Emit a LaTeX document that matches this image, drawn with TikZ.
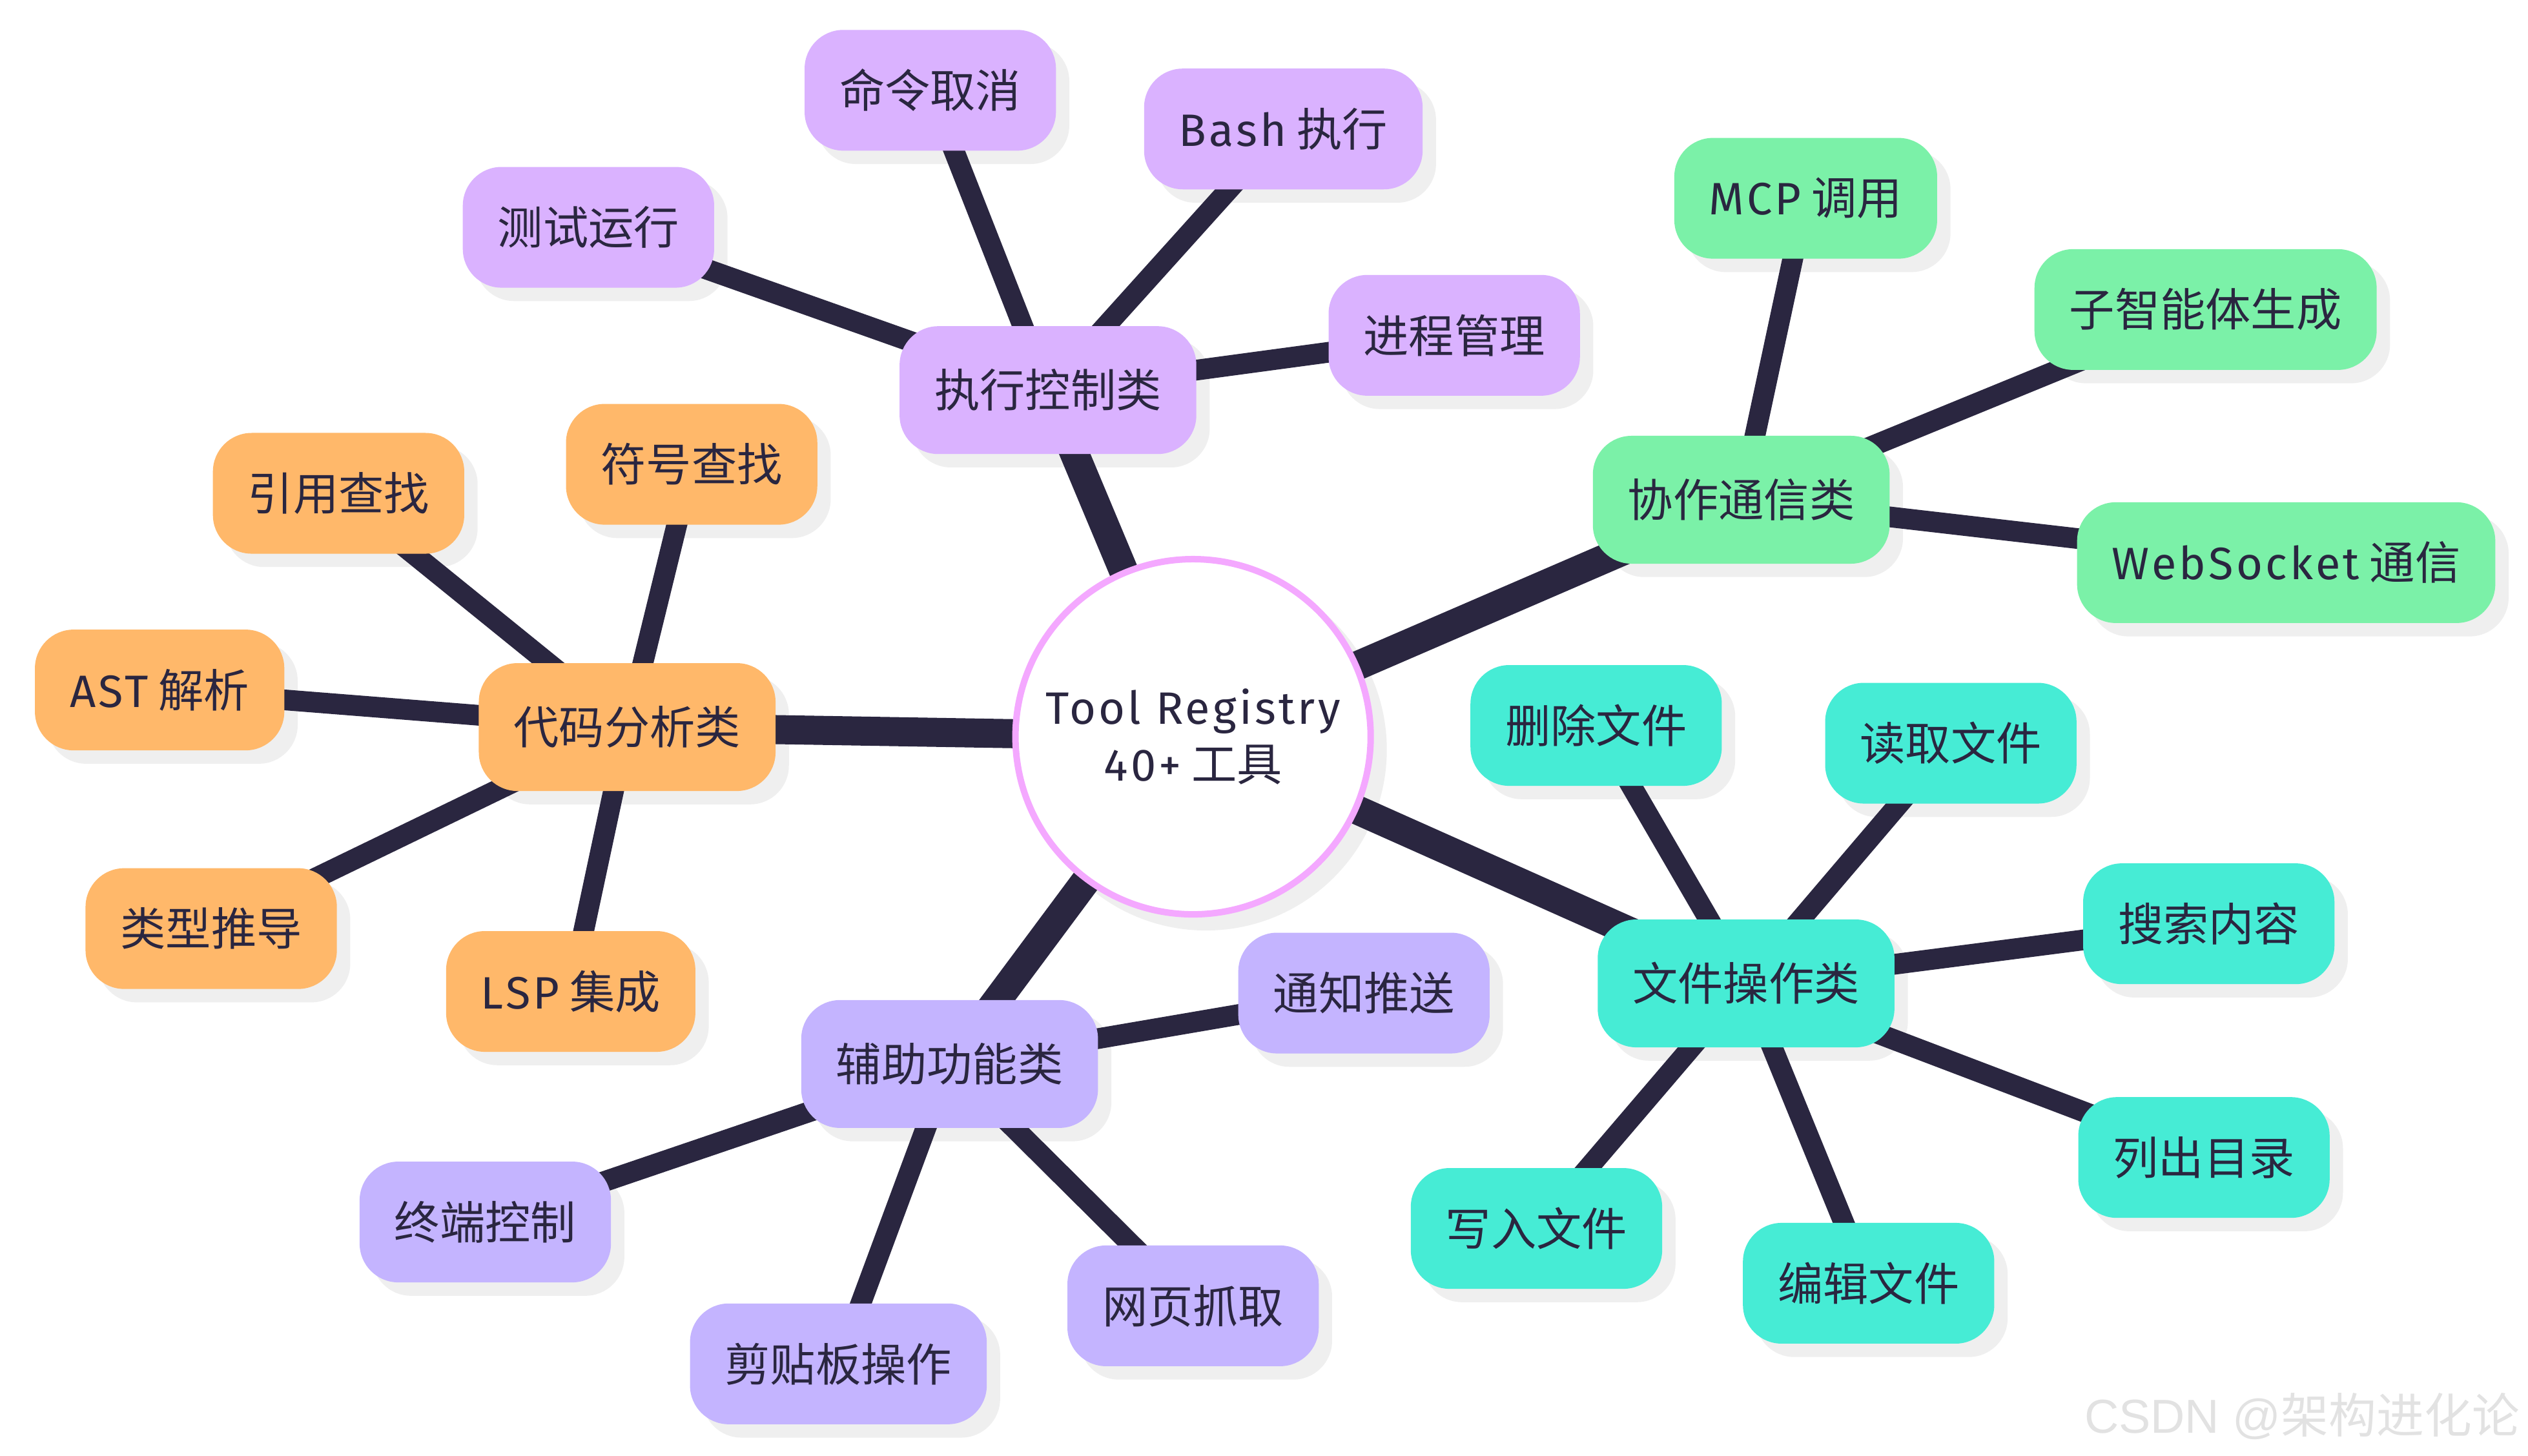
\documentclass[tikz,border=0pt]{standalone}
\usepackage{fontspec}
\setmainfont{Noto Sans CJK SC}
\newfontfamily\lat[LetterSpace=6]{Fira Sans}
\newfontfamily\marklat{Liberation Sans}
\usetikzlibrary{calc}

\pgfdeclarelayer{shadows}
\pgfdeclarelayer{edges}
\pgfsetlayers{shadows,edges,main}

\definecolor{ink}{HTML}{2A2640}
\definecolor{execpurple}{HTML}{DAB2FF}
\definecolor{collabgreen}{HTML}{7BF1A8}
\definecolor{codeorange}{HTML}{FFB86A}
\definecolor{fileteal}{HTML}{46ECD5}
\definecolor{auxviolet}{HTML}{C4B4FF}
\definecolor{hubpink}{HTML}{F4A8FF}
\definecolor{shadowgray}{HTML}{EFEFEF}
\definecolor{markgray}{HTML}{E2E2E2}

\tikzset{
  toolbox/.style={rectangle, rounded corners=0.6cm, inner xsep=0.54cm, inner ysep=0cm,
    text=ink, font=\fontsize{20}{24}\selectfont},
  catbox/.style={toolbox, fill=#1, minimum height=1.98cm},
  leafbox/.style={toolbox, fill=#1, minimum height=1.87cm},
  hubnode/.style={circle, minimum size=5.5cm, fill=white, draw=hubpink, line width=0.1cm,
    text=ink, align=center, font=\fontsize{20}{25}\selectfont},
  trunk/.style={draw=ink, line width=0.45cm},
  twig/.style={draw=ink, line width=0.32cm},
}

\begin{document}
\begin{tikzpicture}[x=0.02497cm, y=-0.02497cm]
  \useasboundingbox (0,0) rectangle (1568,903);

  % Hub
  \node[hubnode] (hub) at (740,457) {{\lat Tool Registry}\\{\lat 40+} 工具};

  % Categories
  \node[catbox=execpurple] (exec) at (650,242) {执行控制类};
  \node[catbox=collabgreen] (collab) at (1080,310) {协作通信类};
  \node[catbox=codeorange] (code) at (389,451) {代码分析类};
  \node[catbox=fileteal] (file) at (1083,610) {文件操作类};
  \node[catbox=auxviolet] (aux) at (589,660) {辅助功能类};

  % Execution leaves
  \node[leafbox=execpurple] (cancel) at (577,56) {命令取消};
  \node[leafbox=execpurple] (bash) at (796,80) {{\lat Bash} 执行};
  \node[leafbox=execpurple] (test) at (365,141) {测试运行};
  \node[leafbox=execpurple] (proc) at (902,208) {进程管理};

  % Collaboration leaves
  \node[leafbox=collabgreen] (mcp) at (1120,123) {{\lat MCP} 调用};
  \node[leafbox=collabgreen] (subagent) at (1368,192) {子智能体生成};
  \node[leafbox=collabgreen] (websocket) at (1418,349) {{\lat WebSocket} 通信};

  % Code leaves
  \node[leafbox=codeorange] (refs) at (210,306) {引用查找};
  \node[leafbox=codeorange] (symbols) at (429,288) {符号查找};
  \node[leafbox=codeorange] (ast) at (99,428) {{\lat AST} 解析};
  \node[leafbox=codeorange] (types) at (131,576) {类型推导};
  \node[leafbox=codeorange] (lsp) at (354,615) {{\lat LSP} 集成};

  % File leaves
  \node[leafbox=fileteal] (delete) at (990,450) {删除文件};
  \node[leafbox=fileteal] (read) at (1210,461) {读取文件};
  \node[leafbox=fileteal] (search) at (1370,573) {搜索内容};
  \node[leafbox=fileteal] (list) at (1367,718) {列出目录};
  \node[leafbox=fileteal] (edit) at (1159,796) {编辑文件};
  \node[leafbox=fileteal] (write) at (953,762) {写入文件};

  % Auxiliary leaves
  \node[leafbox=auxviolet] (notify) at (846,616) {通知推送};
  \node[leafbox=auxviolet] (term) at (301,758) {终端控制};
  \node[leafbox=auxviolet] (fetch) at (740,810) {网页抓取};
  \node[leafbox=auxviolet] (clip) at (520,846) {剪贴板操作};

  % Shadows
  \begin{pgfonlayer}{shadows}
    \fill[shadowgray] ($(hub.center)+(0.2cm,-0.2cm)$) circle (2.8cm);
    \foreach \n in {exec,collab,code,file,aux,cancel,bash,test,proc,mcp,subagent,websocket,
      refs,symbols,ast,types,lsp,delete,read,search,list,edit,write,notify,term,fetch,clip}
      \fill[shadowgray, rounded corners=0.6cm] ($(\n.south west)+(0.2cm,-0.2cm)$)
        rectangle ($(\n.north east)+(0.2cm,-0.2cm)$);
  \end{pgfonlayer}

  % Edges
  \begin{pgfonlayer}{edges}
    \foreach \c in {exec,collab,code,file,aux}
      \draw[trunk] (hub.center) -- (\c.center);
    \foreach \c/\l in {exec/cancel,exec/bash,exec/test,exec/proc,
      collab/mcp,collab/subagent,collab/websocket,
      code/refs,code/symbols,code/ast,code/types,code/lsp,
      file/delete,file/read,file/search,file/list,file/edit,file/write,
      aux/notify,aux/term,aux/fetch,aux/clip}
      \draw[twig] (\c.center) -- (\l.center);
  \end{pgfonlayer}

  % Watermark
  \node[anchor=base east, inner sep=0pt, text=markgray, font=\fontsize{21}{24}\selectfont]
    (mark) at (1563,889) {{\marklat CSDN @}架构进化论};
\end{tikzpicture}
\end{document}
